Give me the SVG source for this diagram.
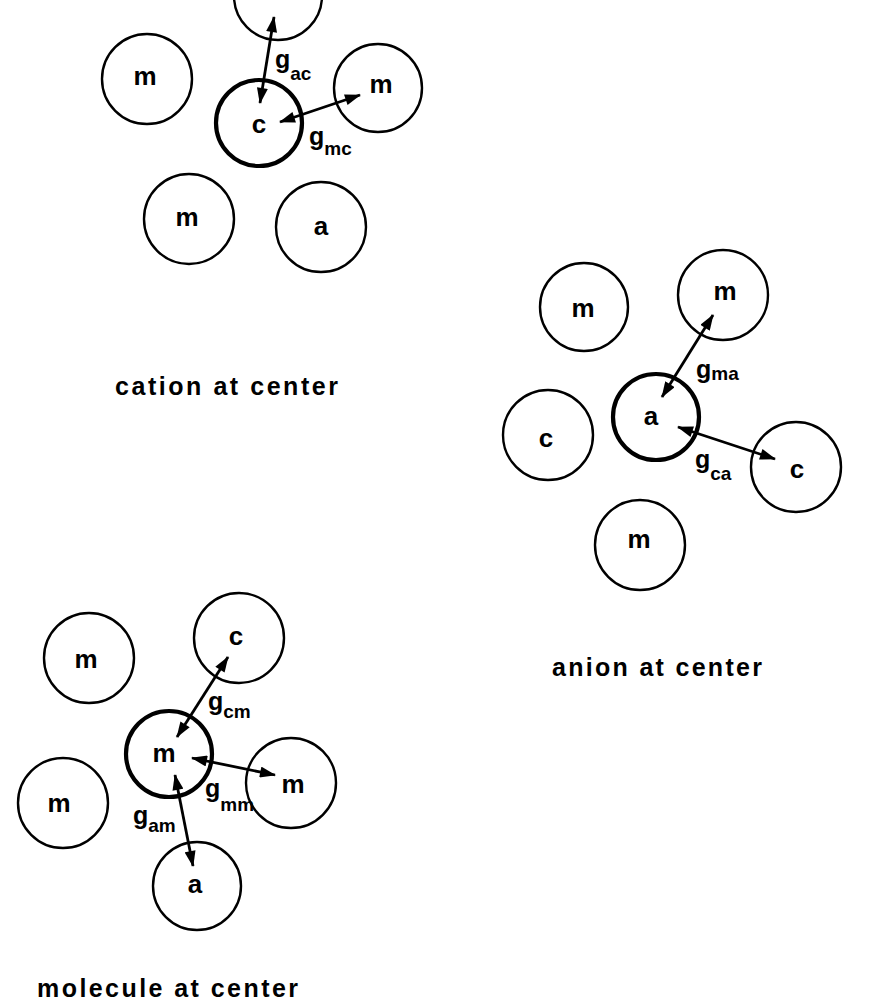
<svg xmlns="http://www.w3.org/2000/svg" width="872" height="1000" viewBox="0 0 872 1000">
<style>
.ci{fill:none;stroke:#000;stroke-width:2.4}
.cc{fill:none;stroke:#000;stroke-width:4.2}
.lb{font-family:"Liberation Sans",Arial,sans-serif;font-size:26px;font-weight:bold;fill:#000;text-anchor:middle}
.g{font-family:"Liberation Sans",Arial,sans-serif;font-size:25px;font-weight:bold;fill:#000}
.s{font-size:19px}
.cap{font-family:"Liberation Sans",Arial,sans-serif;font-size:25px;font-weight:bold;fill:#000}
.ar{stroke:#000;stroke-width:2.8;fill:none;marker-start:url(#ah);marker-end:url(#ah)}
</style>
<defs>
<marker id="ah" viewBox="0 0 16 11" refX="15" refY="5.5" markerUnits="userSpaceOnUse" markerWidth="17" markerHeight="11" orient="auto-start-reverse">
<path d="M0,0 L16,5.5 L0,11 z" fill="#000"/>
</marker>
</defs>
<rect width="872" height="1000" fill="#fff"/>

<g id="cation-group">
<g id="c1-top"><circle class="ci" cx="278" cy="-4" r="44"/></g>
<g id="c1-m-left"><circle class="ci" cx="147" cy="79" r="45"/><text class="lb" x="145" y="85">m</text></g>
<g id="c1-center"><circle class="cc" cx="259" cy="123" r="43"/><text class="lb" x="259" y="133">c</text></g>
<g id="c1-m-right"><circle class="ci" cx="378" cy="88" r="44"/><text class="lb" x="381" y="93">m</text></g>
<g id="c1-m-bottom"><circle class="ci" cx="189" cy="219" r="45"/><text class="lb" x="187" y="226">m</text></g>
<g id="c1-a"><circle class="ci" cx="321" cy="227" r="45"/><text class="lb" x="321" y="235">a</text></g>
<text class="g" x="275" y="68">g<tspan class="s" dy="12">ac</tspan></text>
<text class="g" x="309" y="145">g<tspan class="s" dy="10">mc</tspan></text>
<text class="cap" x="115" y="395" textLength="223" lengthAdjust="spacing">cation at center</text>
</g>

<g id="anion-group">
<g id="a1-m-tl"><circle class="ci" cx="584" cy="307" r="44"/><text class="lb" x="583" y="317">m</text></g>
<g id="a1-m-tr"><circle class="ci" cx="723" cy="295" r="45"/><text class="lb" x="725" y="300">m</text></g>
<g id="a1-center"><circle class="cc" cx="656" cy="417" r="43"/><text class="lb" x="651" y="425">a</text></g>
<g id="a1-c-left"><circle class="ci" cx="548" cy="435" r="45"/><text class="lb" x="546" y="447">c</text></g>
<g id="a1-c-right"><circle class="ci" cx="796" cy="467" r="45"/><text class="lb" x="797" y="478">c</text></g>
<g id="a1-m-bottom"><circle class="ci" cx="640" cy="545" r="45"/><text class="lb" x="639" y="548">m</text></g>
<text class="g" x="696" y="378">g<tspan class="s" dy="2">ma</tspan></text>
<text class="g" x="695" y="468">g<tspan class="s" dy="12">ca</tspan></text>
<text class="cap" x="552" y="676" textLength="210" lengthAdjust="spacing">anion at center</text>
</g>

<g id="molecule-group">
<g id="m1-m-tl"><circle class="ci" cx="89" cy="658" r="45"/><text class="lb" x="86" y="668">m</text></g>
<g id="m1-c-tr"><circle class="ci" cx="239" cy="638" r="45"/><text class="lb" x="236" y="645">c</text></g>
<g id="m1-center"><circle class="cc" cx="169" cy="754" r="43"/><text class="lb" x="164" y="762">m</text></g>
<g id="m1-m-right"><circle class="ci" cx="291" cy="783" r="45"/><text class="lb" x="293" y="793">m</text></g>
<g id="m1-m-left"><circle class="ci" cx="63" cy="803" r="45"/><text class="lb" x="59" y="812">m</text></g>
<g id="m1-a"><circle class="ci" cx="197" cy="886" r="44"/><text class="lb" x="195" y="893">a</text></g>
<text class="g" x="208" y="710">g<tspan class="s" dy="8">cm</tspan></text>
<text class="g" x="205" y="797">g<tspan class="s" dy="14">mm</tspan></text>
<text class="g" x="133" y="824">g<tspan class="s" dy="8">am</tspan></text>
<text class="cap" x="37" y="997" textLength="261" lengthAdjust="spacing">molecule at center</text>
</g>

<g id="connectors">
<line class="ar" x1="274" y1="17" x2="260" y2="103"/>
<line class="ar" x1="280" y1="122" x2="360" y2="95"/>
<line class="ar" x1="713" y1="315" x2="662" y2="397"/>
<line class="ar" x1="678" y1="427" x2="775" y2="459"/>
<line class="ar" x1="228" y1="657" x2="177" y2="737"/>
<line class="ar" x1="192" y1="758" x2="275" y2="775"/>
<line class="ar" x1="175" y1="775" x2="193" y2="866"/>
</g>
</svg>
